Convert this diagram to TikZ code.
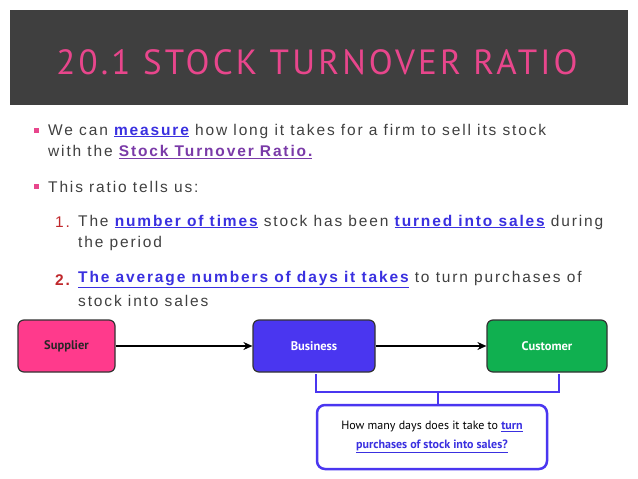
\documentclass[tikz,border=0pt]{standalone}
\usepackage{fontspec}
\setmainfont{PT Sans}
\newfontfamily\boxfont{PT Sans}
\newfontfamily\bodyfont{Liberation Sans}[LetterSpace=12]
\newfontfamily\titlefont{PT Sans}[LetterSpace=9]
\usetikzlibrary{positioning,arrows.meta}
\definecolor{titlepink}{HTML}{E8468C}
\definecolor{bandgrey}{HTML}{3F3F3F}
\definecolor{bodygrey}{HTML}{404040}
\definecolor{linkblue}{HTML}{3A30E0}
\definecolor{linkpurple}{HTML}{7A3AA8}
\definecolor{numred}{HTML}{C0282C}
\definecolor{suppink}{HTML}{FF3A8C}
\definecolor{busblue}{HTML}{4A36F0}
\definecolor{custgreen}{HTML}{10B050}
\newcommand{\lnk}[1]{\textcolor{linkblue}{\textbf{\underline{#1}}}}
\tikzset{
  flowbox/.style={draw=black!80, line width=1.2pt, rounded corners=6pt, minimum height=52pt, font=\boxfont\bfseries\fontsize{12.5}{14}\selectfont},
  bodyline/.style={anchor=west, inner sep=0pt, text=bodygrey, font=\bodyfont\fontsize{15.5}{18}\selectfont},
  bulletsq/.style={fill=titlepink, minimum size=5pt, inner sep=0pt},
}
\begin{document}
\begin{tikzpicture}[x=1pt, y=-1pt, >={Stealth[length=9pt,width=8pt]}]
        \useasboundingbox (0,0) rectangle (638,479);
        \fill [white] (0,0) rectangle (638,479);
        \fill [bandgrey] (10,10) rectangle (628,105);
        \node (title) at (317,62) [text=titlepink, font=\titlefont\fontsize{35}{37}\selectfont] {20.1 STOCK TURNOVER RATIO};

        % bullets and text
        \node [bulletsq] (b1) at (36,130) {};
        \node [bodyline] (l1) at (48,131) {We can \lnk{measure} how long it takes for a firm to sell its stock};
        \node [bodyline] (l2) at (48,152) {with the \textcolor{linkpurple}{\textbf{\underline{Stock Turnover Ratio.}}}};
        \node [bulletsq] (b2) at (36,186) {};
        \node [bodyline] (l3) at (48,187) {This ratio tells us:};
        \node [bodyline, text=numred] (n1) at (55,222) {1.};
        \node [bodyline] (l4) at (78,222) {The \lnk{number of times} stock has been \lnk{turned into sales} during};
        \node [bodyline] (l5) at (78,243) {the period};
        \node [bodyline, text=numred] (n2) at (55,280) {\textbf{2.}};
        \node [bodyline] (l6) at (78,280) {\lnk{The average numbers of days it takes} to turn purchases of};
        \node [bodyline] (l7) at (78,301) {stock into sales};

        % flow
        \node [flowbox, fill=suppink, minimum width=97pt, text=black!85] (sup) at (66.5,346) {Supplier};
        \node [flowbox, fill=busblue, minimum width=122pt, text=white] (bus) at (314,346) {Business};
        \node [flowbox, fill=custgreen, minimum width=120pt, text=white] (cust) at (547,346) {Customer};
        \draw [->, line width=1.4pt] (sup) -- (bus);
        \draw [->, line width=1.4pt] (bus) -- (cust);

        \node [draw=busblue, line width=2.5pt, rounded corners=8pt, fill=white, minimum width=230pt, minimum height=64pt, align=center, font=\fontsize{12}{19}\selectfont] (q) at (432,437)
            {How many days does it take to \lnk{turn}\\\lnk{purchases of stock into sales?}};
        \coordinate (bl) at (316,374);
        \coordinate (br) at (559,374);
        \draw [busblue, line width=2.5pt] (bl) -- ++(0,18) -| (br);
        \draw [busblue, line width=2.5pt] (438,392) -- (q.north -| 438,0);
\end{tikzpicture}
\end{document}
